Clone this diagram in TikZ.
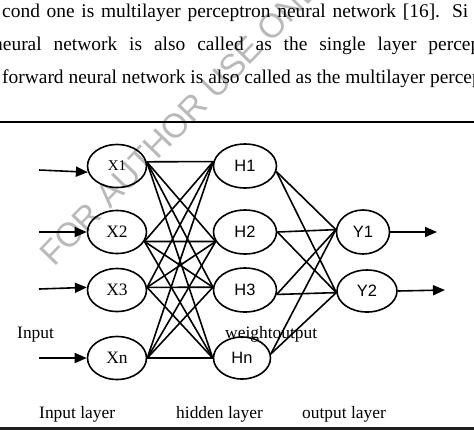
\documentclass[tikz,border=0pt]{standalone}
\usepackage{fontspec}
\setmainfont{Liberation Serif}
\newfontfamily\arialfont{Liberation Sans}
\usetikzlibrary{shapes.geometric,arrows.meta}
\tikzset{
  xnode/.style={ellipse,draw,line width=1.6bp,inner sep=0pt,minimum width=59bp,minimum height=43bp,font=\rmfamily\fontsize{17.5}{20}\selectfont},
  hnode/.style={ellipse,draw,line width=1.6bp,inner sep=0pt,minimum width=63bp,minimum height=44bp,font=\arialfont\fontsize{16.5}{20}\selectfont},
  conn/.style={line width=1.6bp},
  arr/.style={line width=1.6bp,-{Triangle[length=12bp,width=10bp]}},
  lbl/.style={inner sep=0pt,anchor=base west,font=\fontsize{17.5}{20}\selectfont},
  para/.style={inner sep=0pt,anchor=base west,font=\fontsize{19.5}{22}\selectfont},
  wmark/.style={inner sep=0pt,anchor=base west,text=gray!55,font=\arialfont\fontsize{34}{38}\selectfont,rotate=46}
}
\begin{document}
\begin{tikzpicture}[x=1bp,y=-1bp]
\useasboundingbox (0,0) rectangle (474,430);
\clip (0,0) rectangle (474,430);
% watermark
\node[wmark] (wm) at (54,268) {FOR AUTHOR USE ONLY};
% paragraph text
\node[para] (p1) at (2,17) {\makebox[466bp][s]{cond one is multilayer perceptron neural network [16]. Si}};
\node[para] (p2) at (-7,50) {\makebox[487bp][s]{neural network is also called as the single layer percep}};
\node[para] (p3) at (2,83) {forward neural network is also called as the multilayer percep};
% rules
\draw[line width=1.8bp] (0,122) -- (474,122);
\draw[line width=3bp,gray!25!black] (0,428.5) -- (474,428.5);
% input nodes
\node[xnode] (X1) at (117,166) {\fontsize{15}{18}\selectfont X1};
\node[xnode] (X2) at (117,232) {X2};
\node[xnode] (X3) at (117,290) {X3};
\node[xnode] (Xn) at (117,358) {Xn};
% hidden nodes
\node[hnode] (H1) at (245,166) {H1};
\node[hnode] (H2) at (245,232) {H2};
\node[hnode] (H3) at (245,290) {H3};
\node[hnode,minimum width=57bp,minimum height=42bp] (Hn) at (242,358) {Hn};
% output nodes
\node[hnode,minimum width=53bp] (Y1) at (363,232) {Y1};
\node[hnode,minimum width=60bp,minimum height=42bp] (Y2) at (367,291) {Y2};
% input arrows
\coordinate (i1) at (39,170);
\coordinate (i2) at (39,232);
\coordinate (i3) at (39,289);
\coordinate (i4) at (39,358);
\draw[arr] (i1) -- (X1.192);
\draw[arr] (i2) -- (X2.west);
\draw[arr] (i3) -- (X3.175);
\draw[arr] (i4) -- (Xn.west);
% input -> hidden
\foreach \a/\pa in {X1/8,X2/-19,X3/5,Xn/0}{
  \foreach \b/\pb in {H1/172,H2/198,H3/175,Hn/180}{
    \draw[conn] (\a.\pa) -- (\b.\pb);
  }
}
% hidden -> output
\foreach \a/\pa in {H1/-10,H2/0,H3/-8,Hn/8}{
  \foreach \b/\pb in {Y1/175,Y2/183}{
    \draw[conn] (\a.\pa) -- (\b.\pb);
  }
}
% output arrows
\coordinate (o1) at (437,232);
\coordinate (o2) at (445,290);
\draw[arr] (Y1.east) -- (o1);
\draw[arr] (Y2.east) -- (o2);
% labels
\node[lbl] (lin) at (17,338) {Input};
\node[lbl] (lwo) at (225,338) {weightoutput};
\node[lbl] (l1) at (39,418) {Input layer};
\node[lbl] (l2) at (176,418) {hidden layer};
\node[lbl] (l3) at (302,418) {output layer};
\end{tikzpicture}
\end{document}
